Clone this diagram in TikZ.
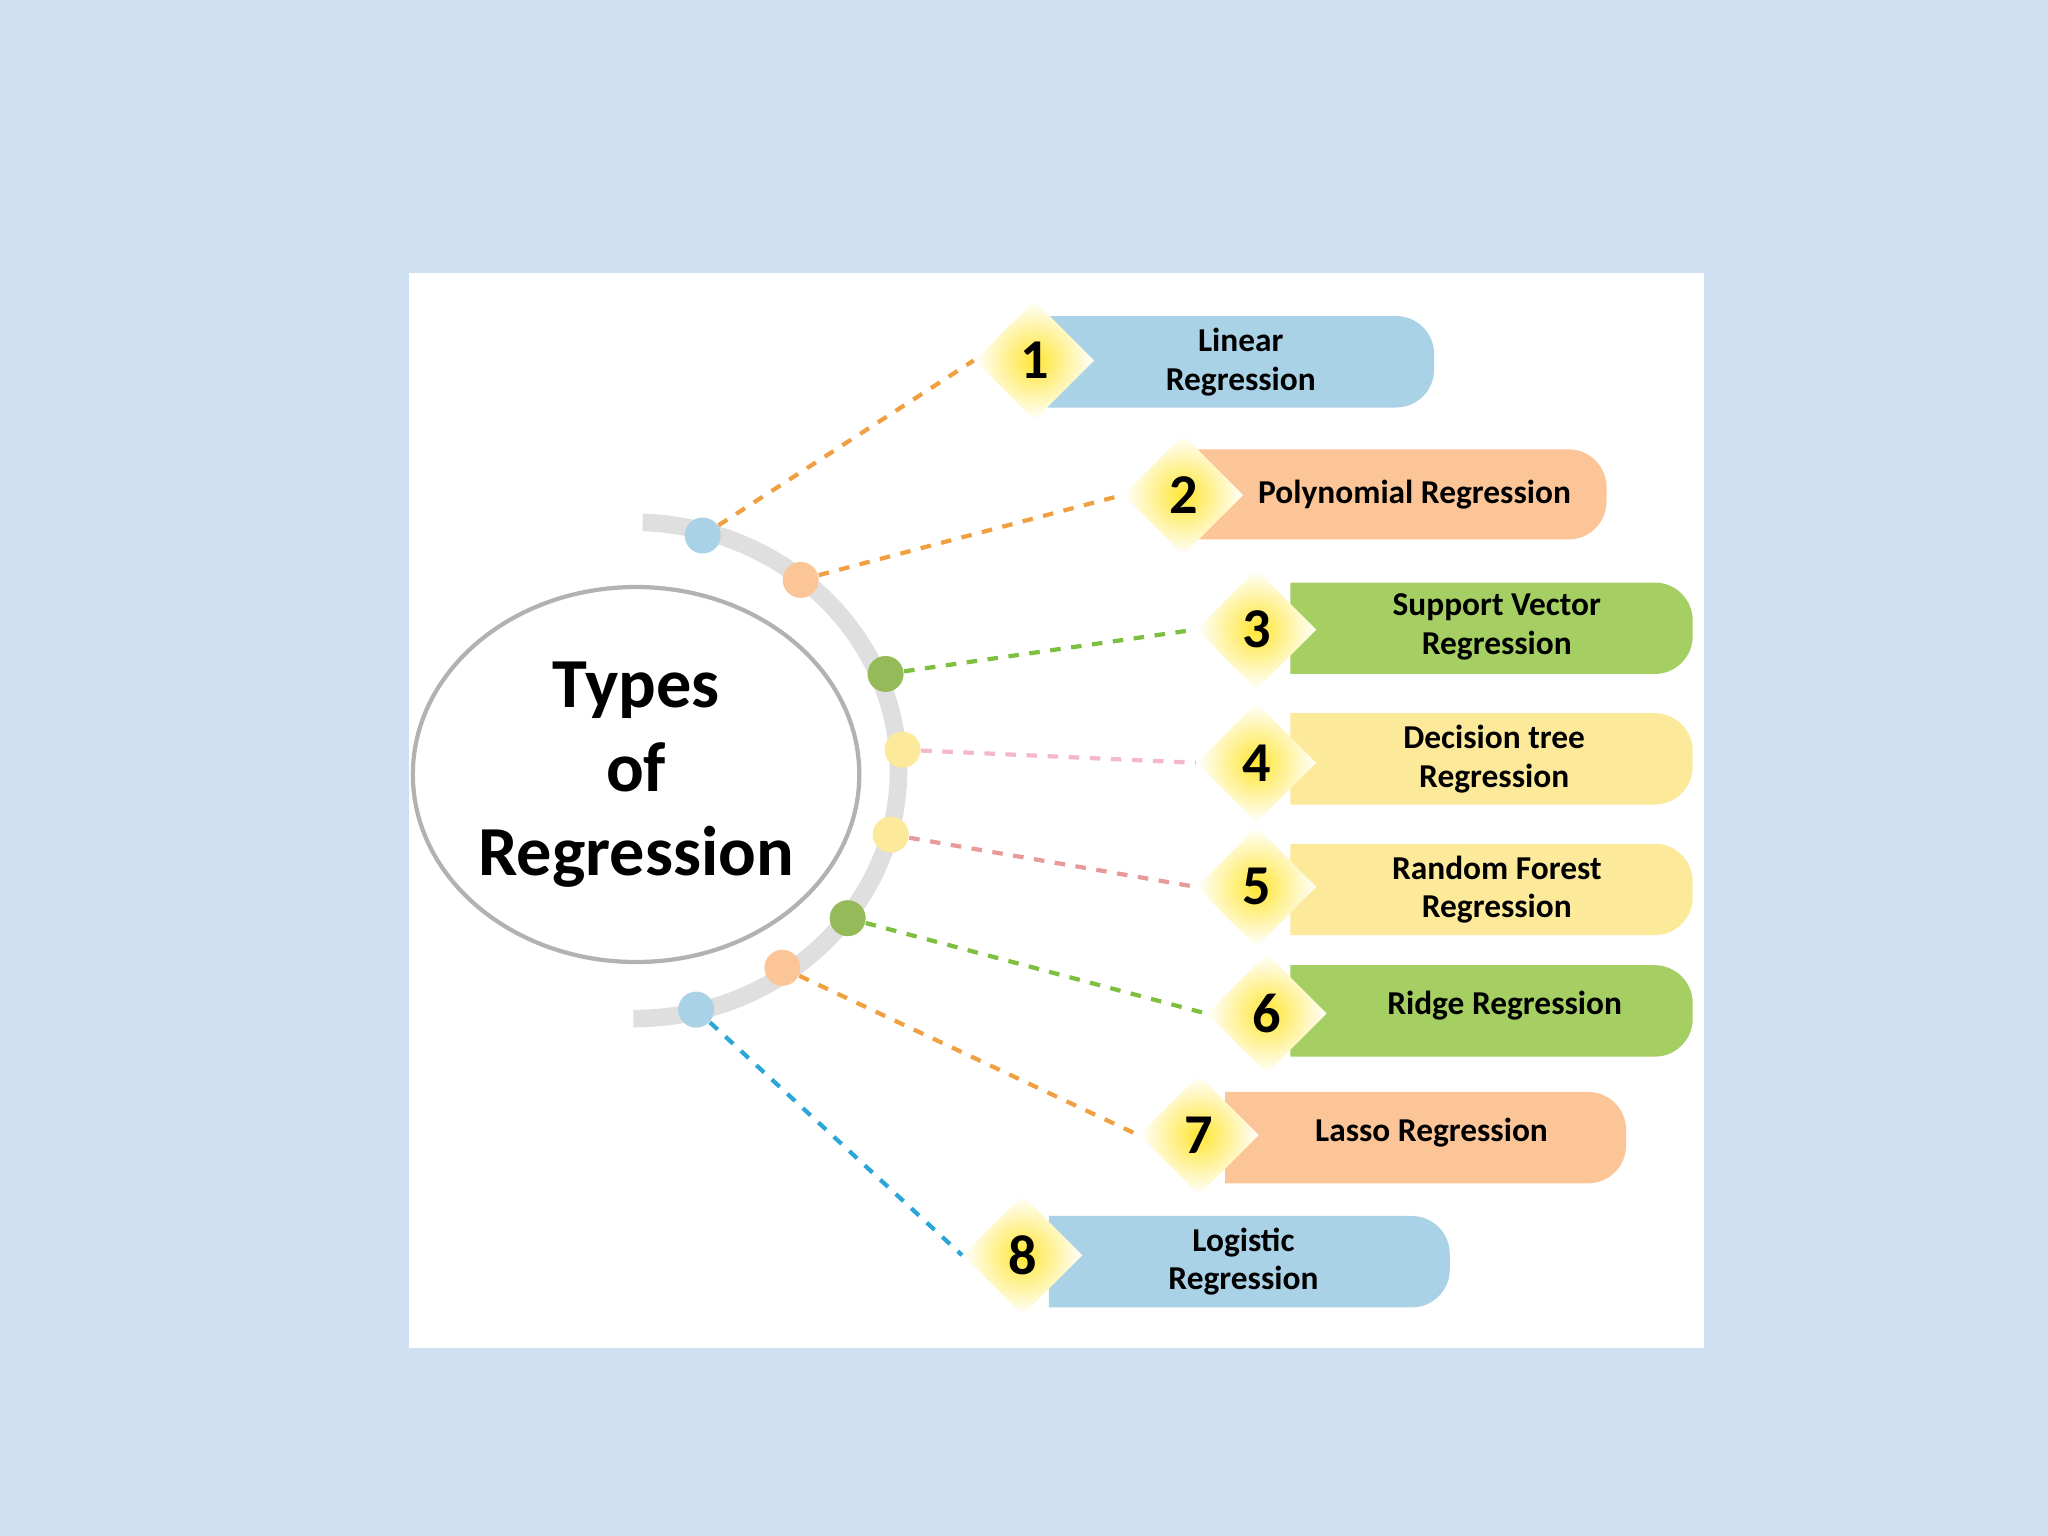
\documentclass[tikz,border=0pt]{standalone}
\usepackage{fontspec}
\setmainfont{Carlito}
\usetikzlibrary{shapes.geometric}
\definecolor{bgblue}{HTML}{CFE0F3}
\definecolor{cblue}{HTML}{A9D2E6}
\definecolor{corange}{HTML}{FBC598}
\definecolor{cgreen}{HTML}{A5CF63}
\definecolor{cyellow}{HTML}{FDE99A}
\definecolor{dblue}{HTML}{2BA6D8}
\definecolor{dorange}{HTML}{F0A040}
\definecolor{dgreen}{HTML}{7FBF3F}
\definecolor{dpink}{HTML}{F4B8C8}
\definecolor{dred}{HTML}{E89A9A}
\tikzset{
  dot/.style={circle, minimum size=0.36cm, inner sep=0pt, fill=#1},
  badge/.style={diamond, minimum size=1.2cm, inner sep=0pt, inner color=yellow!75!orange!80!white, outer color=white, font=\bfseries\fontsize{16}{16}\selectfont},
  link/.style={dashed, line width=1.2pt, draw=#1},
  label/.style={align=center, font=\bfseries\fontsize{9.5}{11}\selectfont},
}
\newcommand{\typebar}[5]{% x1 y1 x2 y2 colour
  \fill[#5] (#1,#2) {[rounded corners=0.38cm] -- (#3,#2) -- (#3,#4)} -- (#1,#4) -- cycle;}
\begin{document}
\begin{tikzpicture}[x=0.01306cm, y=-0.01306cm]
\fill[bgblue] (0,0) rectangle (1568,1176);
\fill[white] (313,209) rectangle (1305,1032);

% centre
\node (title) [ellipse, draw=gray!60, line width=1.2pt, fill=white, minimum width=4.27cm, minimum height=3.75cm, inner sep=0pt, align=center, font=\bfseries\fontsize{20}{24}\selectfont] at (487,593) {Types\\of\\Regression};
\draw[gray!25, line width=5pt] (492,400) arc[start angle=-88, end angle=90, x radius=203, y radius=190];

% bars
\typebar{795}{242}{1098}{312}{cblue}
\typebar{912}{344}{1230}{413}{corange}
\typebar{988}{446}{1296}{516}{cgreen}
\typebar{988}{546}{1296}{616}{cyellow}
\typebar{988}{646}{1296}{716}{cyellow}
\typebar{988}{739}{1296}{809}{cgreen}
\typebar{938}{836}{1245}{906}{corange}
\typebar{803}{931}{1110}{1001}{cblue}

\node (t1) [label] at (950,277) {Linear\\Regression};
\node (t2) [label] at (1083,379) {Polynomial Regression};
\node (t3) [label] at (1146,480) {Support Vector\\Regression};
\node (t4) [label] at (1144,581) {Decision tree\\Regression};
\node (t5) [label] at (1146,681) {Random Forest\\Regression};
\node (t6) [label] at (1152,770) {Ridge Regression};
\node (t7) [label] at (1096,867) {Lasso Regression};
\node (t8) [label] at (952,966) {Logistic\\Regression};

% badges
\node (n1) [badge] at (792,276) {1};
\node (n2) [badge] at (906,379) {2};
\node (n3) [badge] at (962,482) {3};
\node (n4) [badge] at (962,584) {4};
\node (n5) [badge] at (962,679) {5};
\node (n6) [badge] at (970,776) {6};
\node (n7) [badge] at (918,869) {7};
\node (n8) [badge] at (783,961) {8};

% dots
\node (d1) [dot=cblue] at (538,410) {};
\node (d2) [dot=corange] at (613,444) {};
\node (d3) [dot=cgreen!90!black] at (678,516) {};
\node (d4) [dot=cyellow] at (691,574) {};
\node (d5) [dot=cyellow] at (682,639) {};
\node (d6) [dot=cgreen!90!black] at (649,703) {};
\node (d7) [dot=corange] at (599,741) {};
\node (d8) [dot=cblue] at (533,773) {};

\draw[link=dorange] (d1) -- (n1.west);
\draw[link=dorange] (d2) -- (n2.west);
\draw[link=dgreen] (d3) -- (n3.west);
\draw[link=dpink] (d4) -- (n4.west);
\draw[link=dred] (d5) -- (n5.west);
\draw[link=dgreen] (d6) -- (n6.west);
\draw[link=dorange] (d7) -- (n7.west);
\draw[link=dblue] (d8) -- (n8.west);
\end{tikzpicture}
\end{document}
